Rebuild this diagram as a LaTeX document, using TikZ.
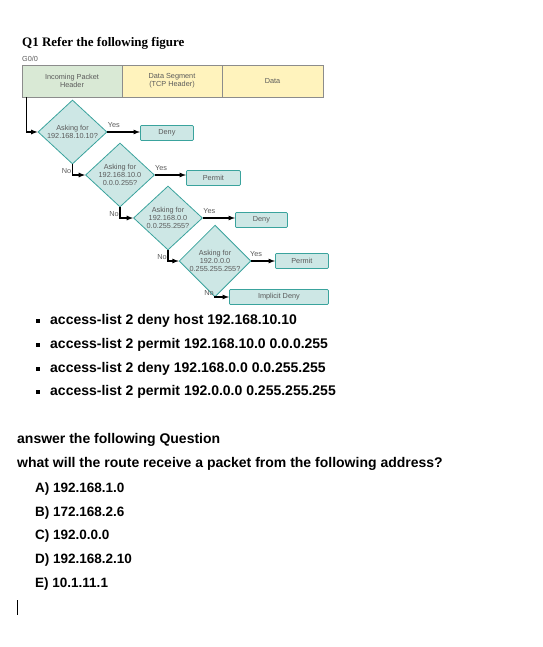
\documentclass[tikz,border=0pt]{standalone}
\usepackage{fontspec}
\setmainfont{Liberation Sans}
\newfontfamily\titlefont{Liberation Serif}
\usetikzlibrary{shapes,arrows}

\definecolor{aclline}{HTML}{3AA39D}
\definecolor{aclfill}{HTML}{CDE7E5}
\definecolor{hdrgreen}{HTML}{D9E9D5}
\definecolor{hdryellow}{HTML}{FFF3BD}
\definecolor{hdrline}{HTML}{8C8C8C}
\definecolor{lblgray}{HTML}{5A5A5A}

\begin{document}
\begin{tikzpicture}[x=1pt,y=-1pt,
    tiny/.style={font=\fontsize{7.3}{7.8}\selectfont, text=lblgray},
    hdrbox/.style={draw=hdrline, thick, tiny, align=center, minimum height=32pt, inner sep=0pt},
    check/.style={diamond, draw=aclline, thick, fill=aclfill, tiny, align=center, minimum width=69pt, minimum height=64pt, inner sep=0pt},
    result/.style={draw=aclline, thick, fill=aclfill, tiny, rounded corners=1pt, minimum height=15pt, inner sep=0pt, anchor=west},
    flow/.style={-latex, very thick},
    txt/.style={anchor=west, font=\fontsize{14}{16}\bfseries, inner sep=0pt}]
  \useasboundingbox (0,0) rectangle (542,647);

  % heading
  \node[anchor=west, inner sep=0pt, font=\titlefont\fontsize{13}{15}\bfseries] (title) at (22,43) {Q1 Refer the following figure};
  \node[tiny, anchor=west, inner sep=0pt] (port) at (22,59) {G0/0};

  % packet fields
  \node[hdrbox, fill=hdrgreen, minimum width=100pt] (hdr) at (72,81) {Incoming Packet\\Header};
  \node[hdrbox, fill=hdryellow, minimum width=100pt] (tcp) at (172,81) {Data Segment\\(TCP Header)};
  \node[hdrbox, fill=hdryellow, minimum width=101pt] (data) at (272.5,81) {Data};

  % acl checks
  \node[check] (q1) at (72.5,132) {Asking for\\192.168.10.10?};
  \node[check] (q2) at (120,175) {Asking for\\192.168.10.0\\0.0.0.255?};
  \node[check] (q3) at (168,218) {Asking for\\192.168.0.0\\0.0.255.255?};
  \node[check] (q4) at (215,261) {Asking for\\192.0.0.0\\0.255.255.255?};

  \node[result, minimum width=53pt] (r1) at (140,133) {Deny};
  \node[result, minimum width=54pt] (r2) at (186,178) {Permit};
  \node[result, minimum width=52pt] (r3) at (235,220) {Deny};
  \node[result, minimum width=53pt] (r4) at (275,261) {Permit};
  \node[result, minimum width=99pt] (r5) at (229,297) {Implicit Deny};

  \draw[flow] ([xshift=5pt]hdr.south west) |- (q1.west);
  \draw[flow] (q1.east) -- node[tiny, above, pos=0.2] {Yes} (q1.east -| r1.west);
  \draw[flow] (q2.east) -- node[tiny, above, pos=0.2] {Yes} (q2.east -| r2.west);
  \draw[flow] (q3.east) -- node[tiny, above, pos=0.2] {Yes} (q3.east -| r3.west);
  \draw[flow] (q4.east) -- node[tiny, above, pos=0.2] {Yes} (q4.east -| r4.west);
  \draw[flow] (q1.south) |- (q2.west);
  \draw[flow] (q2.south) |- (q3.west);
  \draw[flow] (q3.south) |- (q4.west);
  \draw[flow] (q4.south) |- (r5.west);
  \node[tiny, anchor=south east, inner sep=1pt] at (q1.south |- q2.west) {No};
  \node[tiny, anchor=south east, inner sep=1pt] at (q2.south |- q3.west) {No};
  \node[tiny, anchor=south east, inner sep=1pt] at (q3.south |- q4.west) {No};
  \node[tiny, anchor=south east, inner sep=1pt] at (q4.south |- r5.west) {No};

  % access list
  \foreach \y/\cmd [count=\i] in {321/deny host 192.168.10.10, 345/permit 192.168.10.0 0.0.0.255, 369/deny 192.168.0.0 0.0.255.255, 392/permit 192.0.0.0 0.255.255.255}{
    \fill (35.5,\y-2) rectangle (39.5,\y+2);
    \node[txt] (acl\i) at (50,\y) {access-list 2 \cmd};
  }

  % question
  \node[txt] (ask) at (17,440) {answer the following Question};
  \node[txt] (what) at (17,464) {what will the route receive a packet from the following address?};
  \foreach \y/\opt [count=\i] in {489/A) 192.168.1.0, 513/B) 172.168.2.6, 536/C) 192.0.0.0, 560/D) 192.168.2.10, 584/E) 10.1.11.1}{
    \node[txt, font=\fontsize{13.5}{15}\bfseries] (opt\i) at (35,\y) {\opt};
  }
  \draw (17.5,600) -- (17.5,615);
\end{tikzpicture}
\end{document}
